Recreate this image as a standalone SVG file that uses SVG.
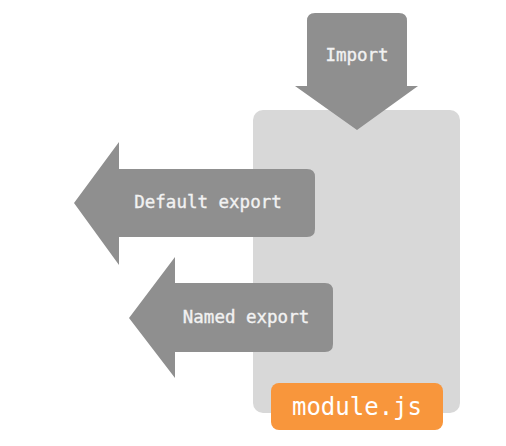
<svg xmlns="http://www.w3.org/2000/svg" width="506" height="446" viewBox="0 0 506 446">
<style>
.arrow{fill:#8f8f8f}
.lbl{font-family:"DejaVu Sans Mono","Liberation Mono",monospace;font-size:17.5px;fill:#f2f2f2;stroke:#f2f2f2;stroke-width:0.35;text-anchor:middle}
</style>
<rect width="506" height="446" fill="#ffffff"/>
<g id="module">
<rect x="253" y="110" width="207" height="303" rx="10" fill="#d8d8d8"/>
</g>
<g id="connectors">
<g id="import">
<path class="arrow" d="M315,13 H399 Q407,13 407,21 V86 H418 L357,130 L295,86 H307 V21 Q307,13 315,13 Z"/>
<text class="lbl" x="357" y="61">Import</text>
</g>
<g id="default-export">
<path class="arrow" d="M119,142 V169 H307 Q315,169 315,177 V229 Q315,237 307,237 H119 V265 L74,203 Z"/>
<text class="lbl" x="208" y="208">Default export</text>
</g>
<g id="named-export">
<path class="arrow" d="M175,257 V283 H325 Q333,283 333,291 V344 Q333,352 325,352 H175 V378 L129,318 Z"/>
<text class="lbl" x="246" y="323">Named export</text>
</g>
</g>
<g id="module-label">
<rect x="271" y="383" width="172" height="47" rx="8" fill="#f8963c"/>
<text x="357" y="415" font-family="DejaVu Sans Mono, Liberation Mono, monospace" font-size="24" fill="#ffffff" text-anchor="middle">module.js</text>
</g>
</svg>
